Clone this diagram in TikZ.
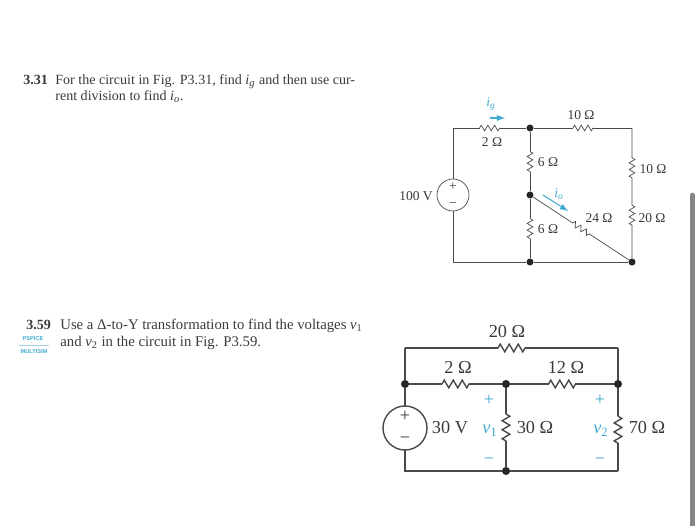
\documentclass[tikz,border=0pt]{standalone}
\usepackage{fontspec}
\setmainfont{Liberation Serif}
\setsansfont{Liberation Sans}
\usepackage{xcolor}
\usepackage{tikz}
\usetikzlibrary{circuits.ee.IEC}
\definecolor{wire}{HTML}{4A4A4A}
\definecolor{note}{HTML}{3A3A3A}
\definecolor{Pblau}{HTML}{3FA9CF}
\tikzset{
  Knoten/.style={circle,fill=black!85,draw=none,inner sep=0pt,minimum size=#1},
  Knoten/.default=4pt,
  Quelle/.style={circle,draw=wire,fill=white,inner sep=0pt,minimum size=#1},
  Wert/.style={inner sep=0pt,text=note},
  WertA/.style={Wert,font=\fontsize{7.7}{9}\selectfont},
  WertB/.style={Wert,font=\fontsize{10.4}{13}\selectfont},
  Text/.style={inner sep=0pt,anchor=base west,text=note,font=\fontsize{#1}{9.6}\selectfont},
  Nr/.style={Text=#1,font=\fontsize{#1}{9.6}\selectfont\bfseries},
  BlauA/.style={inner sep=0pt,text=Pblau,font=\fontsize{7.7}{9}\selectfont},
  BlauB/.style={inner sep=0pt,text=Pblau,font=\fontsize{10.4}{13}\selectfont},
  Logo/.style={inner sep=0pt,text=Pblau,font=\sffamily\bfseries\fontsize{3.2}{4}\selectfont},
  IPfeil/.style={Pblau,semithick,->}
}
\begin{document}
\begin{tikzpicture}[x=0.02cm,y=-0.02cm,
circuit ee IEC, circuit symbol lines/.style={draw,wire},
set resistor graphic={var resistor IEC graphic, circuit symbol size=width 6 height 1, yscale=1.7},
>=latex
]
\useasboundingbox (0,0) rectangle (700,526);

% Scrollbar
\coordinate (SBo) at (692.4,195);
\coordinate (SBu) at (692.4,530);
\draw[gray!95,line width=2.6pt,line cap=round] (SBo) -- (SBu);

% Aufgabentext
\node[Nr=8] (n31) at (23,85) {3.31};
\node[Text=8] (t31a) at (55,85) {For the circuit in Fig. P3.31, find \textit{i}\textsubscript{\textit{g}} and then use cur-};
\node[Text=8] (t31b) at (55,101) {rent division to find \textit{i}\textsubscript{\textit{o}}.};
\node[Nr=8] (n59) at (26,330) {3.59};
\node[Text=8.4] (t59a) at (60,330) {Use a Δ-to-Y transformation to find the voltages \textit{v}\textsubscript{1}};
\node[Text=8.4] (t59b) at (60,347) {and \textit{v}\textsubscript{2} in the circuit in Fig. P3.59.};
\node[Logo] (psp) at (33,339) {PSPICE};
\node[Logo] (mul) at (34,352) {MULTISIM};
\draw[Pblau!50,very thin] (19,345.5) -- (49,345.5);

% Schaltung P3.31
\coordinate (LO) at (453,128);
\coordinate (LU) at (453,262);
\coordinate (RO) at (632,128);
\node[Knoten] (A) at (530,128) {};
\node[Knoten] (B) at (530,195) {};
\node[Knoten] (C) at (530,262) {};
\node[Knoten] (D) at (632,262) {};

\begin{scope}[circuit symbol unit=1.9pt]
\draw[wire] (LO) -- (LU) -- (C) -- (D);
\draw[wire] (LO) to [resistor={name=Ra}] (A);
\draw[wire] (A) to [resistor={name=Rb}] (RO);
\draw[wire] (A) to [resistor={name=Rc}] (B);
\draw[wire] (B) to [resistor={name=Rd}] (C);
\draw[wire] (B) to [resistor={name=Re}] (D);
\draw[wire] (RO) to [resistor={pos=0.306,name=Rf},resistor={pos=0.67,name=Rg}] (D);
\end{scope}
\node[Quelle=32*0.02cm] (Q) at (453,195) {};

\node[WertA] (w2) at (492,142) {2 Ω};
\node[WertA] (w10a) at (581,115) {10 Ω};
\node[WertA] (w6a) at (548,162) {6 Ω};
\node[WertA] (w6b) at (548,229) {6 Ω};
\node[WertA] (w10b) at (653,169) {10 Ω};
\node[WertA] (w20) at (652,218) {20 Ω};
\node[WertA] (w24) at (599,218) {24 Ω};
\node[WertA] (w100) at (416,196) {100 V};
\node[WertA] (Qp) at (453,187) {+};
\node[WertA] (Qm) at (453,205) {−};

\node[BlauA] (ig) at (491,104) {\textit{i}\textsubscript{\textit{g}}};
\coordinate (igA) at (490,118);
\coordinate (igB) at (505,118);
\draw[IPfeil] (igA) -- (igB);
\node[BlauA] (io) at (559,194) {\textit{i}\textsubscript{\textit{o}}};
\coordinate (ioA) at (543,195);
\coordinate (ioB) at (568,211);
\draw[IPfeil] (ioA) -- (ioB);

% Schaltung P3.59
\coordinate (LT) at (405,348);
\coordinate (RT) at (618,348);
\coordinate (LB) at (405,471);
\coordinate (RB) at (618,471);
\node[Knoten=4.6pt] (E) at (405,384) {};
\node[Knoten=4.6pt] (F) at (506,384) {};
\node[Knoten=4.6pt] (G) at (618,384) {};
\node[Knoten=4.6pt] (H) at (506,471) {};

\begin{scope}[circuit symbol unit=2.56pt,thick]
\draw[wire] (E) -- (LT);
\draw[wire] (LT) to [resistor={name=Rh}] (RT);
\draw[wire] (RT) -- (G);
\draw[wire] (E) to [resistor={name=Ri}] (F);
\draw[wire] (F) to [resistor={name=Rj}] (G);
\draw[wire] (E) -- (LB) -- (H);
\draw[wire] (F) to [resistor={name=Rk}] (H);
\draw[wire] (G) to [resistor={name=Rl}] (RB);
\draw[wire] (RB) -- (H);
\end{scope}
\node[Quelle=44*0.02cm,thick] (S) at (405,428) {};

\node[WertB] (w20t) at (507,332) {20 Ω};
\node[WertB] (w2m) at (458,367) {2 Ω};
\node[WertB] (w12) at (566,367) {12 Ω};
\node[WertB] (w30v) at (450,428) {30 V};
\node[WertB] (w30) at (535,428) {30 Ω};
\node[WertB] (w70) at (647,428) {70 Ω};
\node[WertB] (Sp) at (405,416) {+};
\node[WertB] (Sm) at (405,440) {−};
\node[BlauB] (v1p) at (489,400) {+};
\node[BlauB] (v1m) at (489,461) {−};
\node[BlauB] (v1) at (490,431) {\textit{v}\textsubscript{1}};
\node[BlauB] (v2p) at (600,400) {+};
\node[BlauB] (v2m) at (600,461) {−};
\node[BlauB] (v2) at (601,431) {\textit{v}\textsubscript{2}};
\end{tikzpicture}
\end{document}
